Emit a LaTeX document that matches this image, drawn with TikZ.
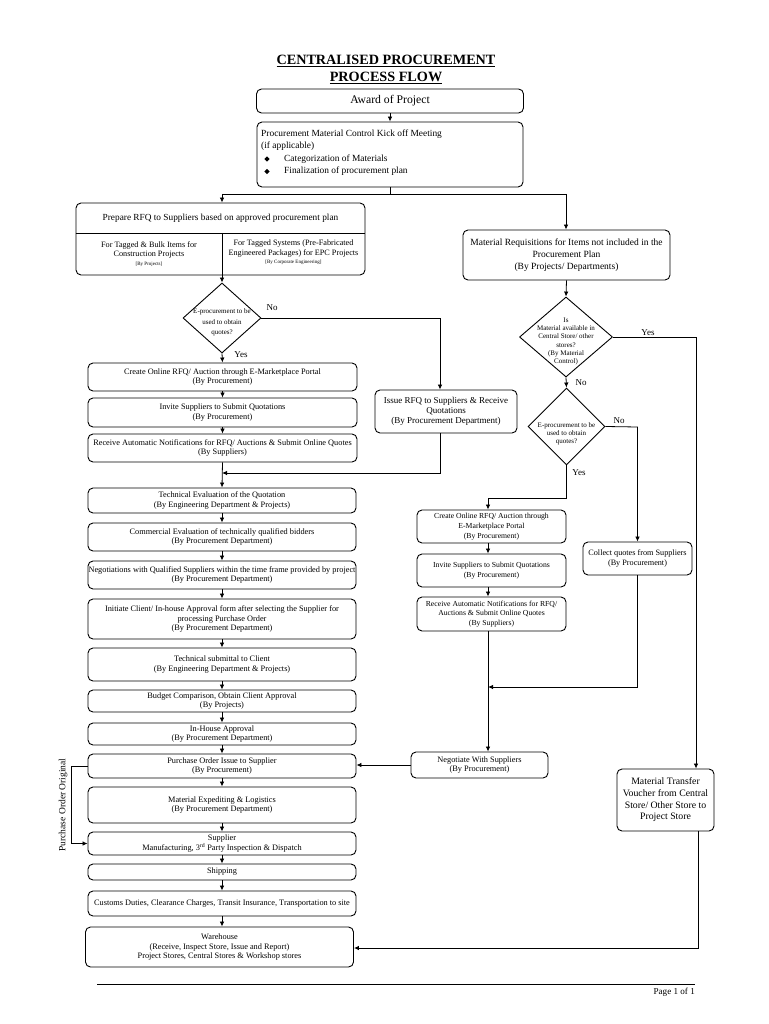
\documentclass[tikz,border=0pt]{standalone}
\usepackage{fontspec}
\setmainfont{Liberation Serif}
\usetikzlibrary{shapes.geometric,arrows.meta,calc}
\begin{document}
\begin{tikzpicture}[x=1pt,y=-1pt,
  box/.style={draw, rounded corners=5pt, line width=0.9pt, align=center, inner sep=0pt, font=\fontsize{8.3}{9.8}\selectfont},
  rbox/.style={box, font=\fontsize{7.7}{9.7}\selectfont},
  arr/.style={-{Latex[length=5pt,width=4.5pt]}, line width=0.8pt},
  ln/.style={line width=0.8pt},
  lab/.style={font=\fontsize{9}{10}\selectfont, inner sep=0pt},
  dia/.style={draw, diamond, line width=0.9pt, inner sep=0pt},
  dtext/.style={align=center, inner sep=0pt, font=\fontsize{7}{8.3}\selectfont},
  tiny/.style={font=\fontsize{6}{7}\selectfont\addfontfeature{LetterSpace=8}}
]
\useasboundingbox (0,0) rectangle (768,1024);

% title
\node[align=center, font=\fontsize{14.2}{17}\selectfont\bfseries] (title) at (386,69.5)
  {\underline{CENTRALISED PROCUREMENT}\\\underline{PROCESS FLOW}};

% top boxes
\node[box, font=\fontsize{11.7}{13}\selectfont, minimum width=267pt, minimum height=24pt] (award) at (390,101) {Award of Project};
\node[box, minimum width=266pt, minimum height=65pt] (kick) at (390,154.5) {};
\begin{scope}[every node/.style={anchor=west, inner sep=0pt, font=\fontsize{9.4}{10}\selectfont}]
\node (k1) at (261,134) {Procurement Material Control Kick off Meeting};
\node (k2) at (261,146) {(if applicable)};
\node (k3) at (284,159) {Categorization of Materials};
\node (k4) at (284,171.5) {Finalization of procurement plan};
\end{scope}
\node[diamond, fill, inner sep=1.4pt] (b1) at (267,159) {};
\node[diamond, fill, inner sep=1.4pt] (b2) at (267,171.5) {};

% RFQ box
\node[box, minimum width=289pt, minimum height=72pt] (rfq) at (220.5,239) {};
\node[inner sep=0pt, font=\fontsize{9.3}{10}\selectfont] (rfqt) at (220.5,218) {Prepare RFQ to Suppliers based on approved procurement plan};
\draw[ln] (rfq.west |- 0,233) -- (rfq.east |- 0,233);
\node[align=center, inner sep=0pt, font=\fontsize{8.2}{9.3}\selectfont] (rfql) at (149,254)
  {For Tagged \& Bulk Items for\\Construction Projects\\[-1pt]{\tiny[By Projects]}};
\node[align=center, inner sep=0pt, font=\fontsize{8.2}{10}\selectfont] (rfqr) at (293.5,252)
  {For Tagged Systems (Pre-Fabricated\\Engineered Packages) for EPC Projects\\[-2pt]{\tiny[By Corporate Engineering]}};

% Material requisitions
\node[box, font=\fontsize{9.5}{11.7}\selectfont, minimum width=207pt, minimum height=50pt] (mr) at (566.5,255)
  {Material Requisitions for Items not included in the\\Procurement Plan\\(By Projects/ Departments)};

% diamond 1
\node[dia, minimum width=78pt, minimum height=70pt] (d1) at (222,318) {};
\node[dtext, font=\fontsize{7}{10.5}\selectfont] (d1t) at (222,322.5) {E-procurement to be\\used to obtain\\quotes?};
\node[lab] (no1) at (272,308) {No};
\node[lab] (yes1) at (241,355) {Yes};

% diamond 2
\node[dia, minimum width=93pt, minimum height=80pt] (d2) at (566,337) {};
\node[dtext] (d2t) at (566,341.5) {Is\\Material available in\\Central Store/ other\\stores?\\(By Material\\Control)};
\node[lab] (yes2) at (648,333) {Yes};
\node[lab] (no2) at (581,383) {No};

% diamond 3
\node[dia, minimum width=77pt, minimum height=77pt] (d3) at (566.5,426.5) {};
\node[dtext] (d3t) at (566.5,434) {E-procurement to be\\used to obtain\\quotes?};
\node[lab] (no3) at (619,421) {No};
\node[lab] (yes3) at (579,473) {Yes};

% left column
\node[box, minimum width=269pt, minimum height=28pt] (co1) at (222.5,377) {Create Online RFQ/ Auction through E-Marketplace Portal\\(By Procurement)};
\node[box, minimum width=269pt, minimum height=29pt] (inv1) at (222.5,412.5) {Invite Suppliers to Submit Quotations\\(By Procurement)};
\node[box, minimum width=269pt, minimum height=28pt] (rec1) at (222.5,448) {Receive Automatic Notifications for RFQ/ Auctions \& Submit Online Quotes\\(By Suppliers)};
\node[box, font=\fontsize{9}{9.8}\selectfont, minimum width=142pt, minimum height=43pt] (issue) at (446,411.5) {Issue RFQ to Suppliers \& Receive\\Quotations\\(By Procurement Department)};

\node[box, minimum width=268pt, minimum height=25pt] (te) at (222,500.5) {Technical Evaluation of the Quotation\\(By Engineering Department \& Projects)};
\node[box, minimum width=268pt, minimum height=28pt] (ce) at (222,537) {Commercial Evaluation of technically qualified bidders\\(By Procurement Department)};
\node[box, minimum width=268pt, minimum height=28pt] (neg) at (222,575) {Negotiations with Qualified Suppliers within the time frame provided by project\\(By Procurement Department)};
\node[box, minimum width=268pt, minimum height=40pt] (init) at (222,619) {Initiate Client/ In-house Approval form after selecting the Supplier for\\processing Purchase Order\\(By Procurement Department)};
\node[box, minimum width=268pt, minimum height=33pt] (ts) at (222,664.5) {Technical submittal to Client\\(By Engineering Department \& Projects)};
\node[box, minimum width=268pt, minimum height=22pt] (bud) at (222,701) {Budget Comparison, Obtain Client Approval\\(By Projects)};
\node[box, minimum width=268pt, minimum height=22pt] (inh) at (222,734) {In-House Approval\\(By Procurement Department)};
\node[box, minimum width=268pt, minimum height=24pt] (po) at (222,766) {Purchase Order Issue to Supplier\\(By Procurement)};
\node[box, minimum width=268pt, minimum height=36pt] (me) at (222,805) {Material Expediting \& Logistics\\(By Procurement Department)};
\node[box, minimum width=268pt, minimum height=23pt] (sup) at (222,843.5) {Supplier\\Manufacturing, 3\textsuperscript{rd} Party Inspection \& Dispatch};
\node[box, minimum width=268pt, minimum height=16pt] (ship) at (222,872) {Shipping};
\node[box, minimum width=268pt, minimum height=25pt] (cust) at (222,903.5) {Customs Duties, Clearance Charges, Transit Insurance, Transportation to site};
\node[box, minimum width=268pt, minimum height=40pt] (wh) at (219.5,947) {Warehouse\\(Receive, Inspect Store, Issue and Report)\\Project Stores, Central Stores \& Workshop stores};

\node[rotate=90, inner sep=0pt, font=\fontsize{9.5}{10}\selectfont] (poo) at (63,805) {Purchase Order Original};

% right column
\node[rbox, minimum width=149pt, minimum height=33pt] (co2) at (491.5,526.5) {Create Online RFQ/ Auction through\\E-Marketplace Portal\\(By Procurement)};
\node[rbox, minimum width=149pt, minimum height=33pt] (inv2) at (491.5,570.5) {Invite Suppliers to Submit Quotations\\(By Procurement)};
\node[rbox, minimum width=149pt, minimum height=34pt] (rec2) at (491.5,614) {Receive Automatic Notifications for RFQ/\\Auctions \& Submit Online Quotes\\(By Suppliers)};
\node[rbox, font=\fontsize{8.2}{10.5}\selectfont, minimum width=109pt, minimum height=33pt] (coll) at (637.5,558.5) {Collect quotes from Suppliers\\(By Procurement)};
\node[box, minimum width=137pt, minimum height=26pt] (nego) at (479.5,765) {Negotiate With Suppliers\\(By Procurement)};
\node[box, font=\fontsize{9.8}{11.7}\selectfont, minimum width=97pt, minimum height=62pt] (mt) at (665.5,800) {Material Transfer\\Voucher from Central\\Store/ Other Store to\\Project Store};

% connectors top
\draw[arr] (award.south) -- (kick.north);
\coordinate (jl) at (222,194);
\coordinate (jr) at (566,194);
\draw[ln] (kick.south) -- (kick.south |- jl);
\draw[ln] (jl) -- (jr);
\draw[arr] (jl) -- (jl |- rfq.north);
\draw[arr] (jr) -- (jr |- mr.north);
\draw[arr] (222,233) -- (d1.north);

% left branch
\coordinate (n1) at (440,318);
\draw[arr] (d1.east) -- (n1) -- (n1 |- issue.north);
\draw[arr] (d1.south) -- (co1.north);
\draw[arr] (co1.south) -- (inv1.north);
\draw[arr] (inv1.south) -- (rec1.north);
\draw[arr] (rec1.south) -- (te.north);
\coordinate (m1) at (440,473);
\draw[arr] (m1 |- issue.south) -- (m1) -- (222,473);

\draw[arr] (te.south) -- (ce.north);
\draw[arr] (ce.south) -- (neg.north);
\draw[arr] (neg.south) -- (init.north);
\draw[arr] (init.south) -- (ts.north);
\draw[arr] (ts.south) -- (bud.north);
\draw[arr] (bud.south) -- (inh.north);
\draw[arr] (inh.south) -- (po.north);
\draw[arr] (po.south) -- (me.north);
\draw[arr] (me.south) -- (sup.north);
\draw[arr] (sup.south) -- (ship.north);
\draw[arr] (ship.south) -- (cust.north);
\draw[arr] (cust.south) -- (cust.south |- wh.north);
\draw[arr] (po.west) -- ++(-16,0) |- (sup.west);

% right branch
\draw[arr] (mr.south) -- (d2.north);
\coordinate (y2) at (696,337);
\draw[arr] (d2.east) -- (y2) -- (y2 |- mt.north);
\draw[arr] (d2.south) -- (d3.north);
\coordinate (n3) at (637.5,427);
\draw[arr] (d3.east) -- (n3) -- (coll.north);
\coordinate (y3a) at (566.5,498);
\coordinate (y3b) at (488,498);
\draw[arr] (d3.south) -- (y3a) -- (y3b) -- (y3b |- co2.north);
\draw[arr] (y3b |- co2.south) -- (y3b |- inv2.north);
\draw[arr] (y3b |- inv2.south) -- (y3b |- rec2.north);
\draw[arr] (y3b |- rec2.south) -- (y3b |- nego.north);
\coordinate (c1) at (637.5,687);
\draw[arr] (coll.south) -- (c1) -- (y3b |- c1);
\draw[arr] (nego.west) -- (nego.west -| po.east);
\coordinate (w1) at (698,948);
\draw[arr] (w1 |- mt.south) -- (w1) -- (w1 -| wh.east);

% footer
\coordinate (f1) at (97,984);
\coordinate (f2) at (695,984);
\draw[line width=0.9pt] (f1) -- (f2);
\node[anchor=east, inner sep=0pt, font=\fontsize{9.1}{10}\selectfont] (page) at (695,992) {Page 1 of 1};
\end{tikzpicture}
\end{document}
